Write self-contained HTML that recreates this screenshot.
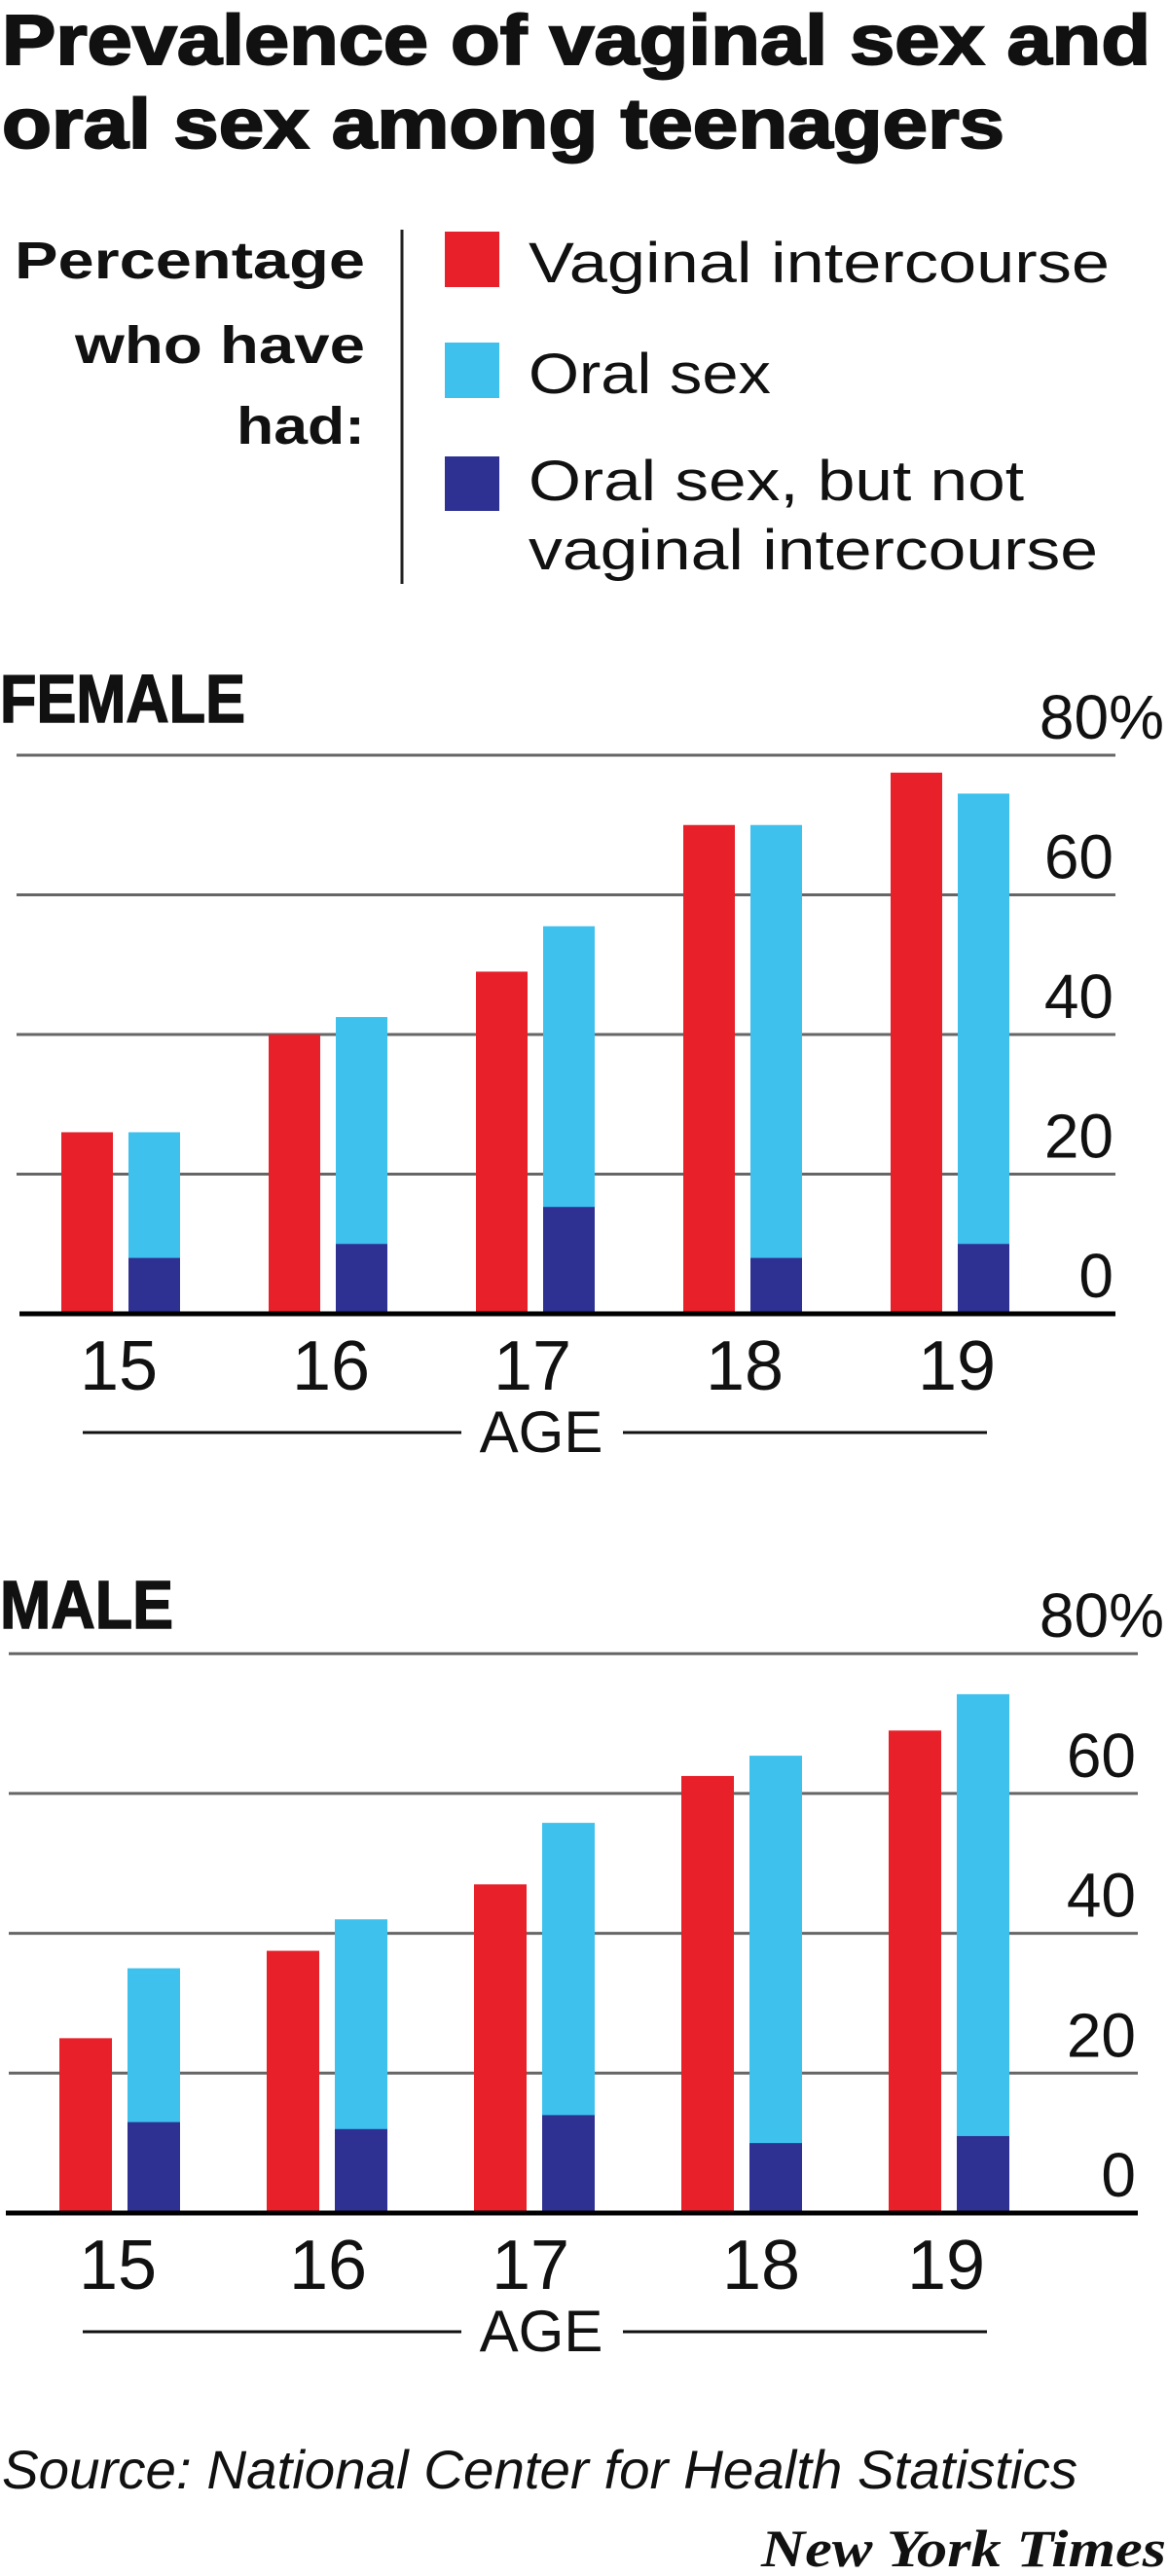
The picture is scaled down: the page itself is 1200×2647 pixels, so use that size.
<!DOCTYPE html>
<html><head><meta charset="utf-8">
<style>
html,body{margin:0;padding:0;background:#fff;}
svg{display:block;}
text{font-family:"Liberation Sans",sans-serif;fill:#111;}
</style></head>
<body>
<svg id="chart" width="1200" height="2647" viewBox="0 0 1200 2647" xmlns="http://www.w3.org/2000/svg">
  <text x="2" y="66" font-size="72" font-weight="bold" stroke="#111" stroke-width="2" textLength="1180" lengthAdjust="spacingAndGlyphs">Prevalence of vaginal sex and</text>
  <text x="2" y="152" font-size="72" font-weight="bold" stroke="#111" stroke-width="2" textLength="1030" lengthAdjust="spacingAndGlyphs">oral sex among teenagers</text>

  <g>
    <text x="375" y="286" font-size="54" font-weight="bold" text-anchor="end" textLength="360" lengthAdjust="spacingAndGlyphs">Percentage</text>
    <text x="375" y="373" font-size="54" font-weight="bold" text-anchor="end" textLength="298" lengthAdjust="spacingAndGlyphs">who have</text>
    <text x="375" y="456" font-size="54" font-weight="bold" text-anchor="end" textLength="132" lengthAdjust="spacingAndGlyphs">had:</text>
    <line x1="413" y1="236" x2="413" y2="600" stroke="#222" stroke-width="3"/>
    <rect x="457" y="238" width="56" height="57" fill="#e8202a"/>
    <rect x="457" y="352" width="56" height="57" fill="#3fc1ee"/>
    <rect x="457" y="469" width="56" height="56" fill="#2e3192"/>
    <text x="543" y="290" font-size="58" textLength="597" lengthAdjust="spacingAndGlyphs">Vaginal intercourse</text>
    <text x="543" y="404" font-size="58" textLength="249" lengthAdjust="spacingAndGlyphs">Oral sex</text>
    <text x="543" y="514" font-size="58" textLength="509" lengthAdjust="spacingAndGlyphs">Oral sex, but not</text>
    <text x="543" y="585" font-size="58" textLength="585" lengthAdjust="spacingAndGlyphs">vaginal intercourse</text>
  </g>

  <g id="female"></g>
  <g id="male"></g>

  <text x="2" y="2557" font-size="56" font-style="italic" textLength="1105" lengthAdjust="spacingAndGlyphs">Source: National Center for Health Statistics</text>
  <text x="782" y="2637" font-size="54" font-style="italic" font-weight="bold" style="font-family:'Liberation Serif',serif" textLength="416" lengthAdjust="spacingAndGlyphs">New York Times</text>
</svg>
<script>
const ages = ["15", "16", "17", "18", "19"];
const tickValues = [0, 20, 40, 60, 80];
const tickLabels = ["0", "20", "40", "60", "80%"];
const femaleVaginal = [26, 40, 49, 70, 77.5];
const femaleOral = [26, 42.5, 55.5, 70, 74.5];
const femaleOralOnly = [8, 10, 15.3, 8, 10];
const maleVaginal = [25, 37.5, 47, 62.5, 69];
const maleOral = [35, 42, 55.8, 65.4, 74.2];
const maleOralOnly = [13, 12, 14, 10, 11];

const NS = "http://www.w3.org/2000/svg";
function mk(tag, attrs, parent) {
  const e = document.createElementNS(NS, tag);
  for (const k in attrs) e.setAttribute(k, attrs[k]);
  parent.appendChild(e);
  return e;
}
function drawChart(g, cfg, vag, oral, only) {
  const yScale = v => cfg.base - v * cfg.pxPer;
  const xScale = i => cfg.x0 + i * cfg.step;
  const t = mk("text", {x: 0, y: cfg.titleY, "font-size": 70, "font-weight": "bold", stroke: "#111", "stroke-width": 1.5, textLength: cfg.titleW, lengthAdjust: "spacingAndGlyphs"}, g);
  
  
  t.textContent = cfg.title;
  tickValues.forEach((v, i) => {
    if (v > 0) {
      const l = mk("line", {x1: cfg.gx0, x2: cfg.gx1, y1: yScale(v), y2: yScale(v), stroke: "#666", "stroke-width": 3}, g);
      
      
    }
    const isTop = i === tickValues.length - 1;
    const lb = mk("text", {x: isTop ? 1196 : cfg.gx1 - 2, y: yScale(v) - 17, "font-size": 64, "text-anchor": "end", fill: "#222"}, g);
    
    
    lb.textContent = tickLabels[i];
  });
  ages.forEach((a, i) => {
    const x = xScale(i);
    const r = mk("rect", {x: x, y: yScale(vag[i]), width: cfg.bw, height: vag[i] * cfg.pxPer, fill: "#e8202a"}, g);
    
    
    const c = mk("rect", {x: x + cfg.off, y: yScale(oral[i]), width: cfg.bw, height: oral[i] * cfg.pxPer, fill: "#3fc1ee"}, g);
    
    
    const n = mk("rect", {x: x + cfg.off, y: yScale(only[i]), width: cfg.bw, height: only[i] * cfg.pxPer, fill: "#2e3192"}, g);
    
    
    const xl = mk("text", {x: cfg.labelX[i], y: cfg.base + 78, "font-size": 72, "text-anchor": "middle", fill: "#222"}, g);
    
    
    xl.textContent = a;
  });
  const b = mk("line", {x1: cfg.bx0, x2: cfg.gx1, y1: cfg.base, y2: cfg.base, stroke: "#000", "stroke-width": 5}, g);
  
  
  const ay = cfg.base + 122;
  const l1 = mk("line", {x1: 85, x2: 474, y1: ay, y2: ay, stroke: "#111", "stroke-width": 3}, g);
  
  
  const l2 = mk("line", {x1: 640, x2: 1014, y1: ay, y2: ay, stroke: "#111", "stroke-width": 3}, g);
  
  
  const at = mk("text", {x: 556, y: ay + 20, "font-size": 60, "text-anchor": "middle", fill: "#222"}, g);
  
  
  at.textContent = "AGE";
}
drawChart(document.getElementById("female"),
  {title: "FEMALE", titleY: 742, titleW: 252, base: 1350, pxPer: 143.5 / 20, x0: 63, step: 213, bw: 53, off: 69,
   gx0: 17, gx1: 1146, bx0: 20, labelX: [122, 340, 547, 765, 983]},
  femaleVaginal, femaleOral, femaleOralOnly);
drawChart(document.getElementById("male"),
  {title: "MALE", titleY: 1673, titleW: 178, base: 2274, pxPer: 143.7 / 20, x0: 61, step: 213, bw: 54, off: 70,
   gx0: 9, gx1: 1169, bx0: 6, labelX: [121, 337, 545, 782, 972]},
  maleVaginal, maleOral, maleOralOnly);
</script>
</body></html>
